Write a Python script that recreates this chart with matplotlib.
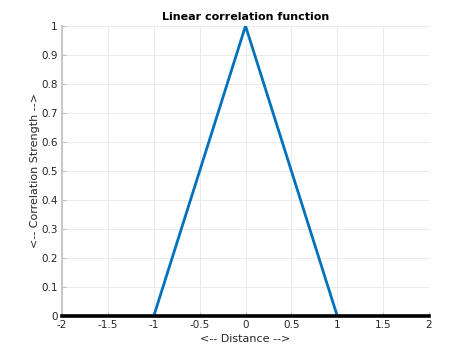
import matplotlib
matplotlib.use('Agg')
import matplotlib.pyplot as plt

# datos de la función de correlación lineal
dist = [-1, 0, 1]
corr = [0, 1, 0]
base_x = [-2, 2]
base_y = [0, 0]
xticks = [-2, -1.5, -1, -0.5, 0, 0.5, 1, 1.5, 2]
yticks = [0, 0.1, 0.2, 0.3, 0.4, 0.5, 0.6, 0.7, 0.8, 0.9, 1]

fig = plt.figure(figsize=(4.74, 3.55), dpi=100)
ax = fig.add_axes([0.131, 0.110, 0.774, 0.817])

ax.plot(dist, corr, color='#0072BD', linewidth=2.0, zorder=3)
ax.plot(base_x, base_y, color='black', linewidth=2.6, zorder=4, clip_on=False)

ax.set_xlim(-2, 2)
ax.set_ylim(0, 1)
ax.set_xticks(xticks)
ax.set_xticklabels(['-2', '-1.5', '-1', '-0.5', '0', '0.5', '1', '1.5', '2'])
ax.set_yticks(yticks)
ax.set_yticklabels(['0', '0.1', '0.2', '0.3', '0.4', '0.5', '0.6', '0.7', '0.8', '0.9', '1'])
ax.grid(True, color='#e6e6e6', linewidth=0.6)
ax.set_axisbelow(True)

for s in ['top', 'right']:
    ax.spines[s].set_visible(False)
ax.spines['left'].set_color('#bfbfbf')
ax.spines['left'].set_linewidth(1.2)
ax.spines['bottom'].set_color('#bfbfbf')
ax.tick_params(direction='in', length=3, color='#bfbfbf', labelsize=7.5,
               labelcolor='#262626', pad=3)

ax.set_title('Linear correlation function', fontsize=8, fontweight='bold', pad=4)
ax.set_xlabel('<-- Distance -->', fontsize=8, color='#262626', labelpad=3)
ax.set_ylabel('<-- Correlation Strength -->', fontsize=8, color='#262626', labelpad=1)

plt.savefig('out.png', dpi=100)
